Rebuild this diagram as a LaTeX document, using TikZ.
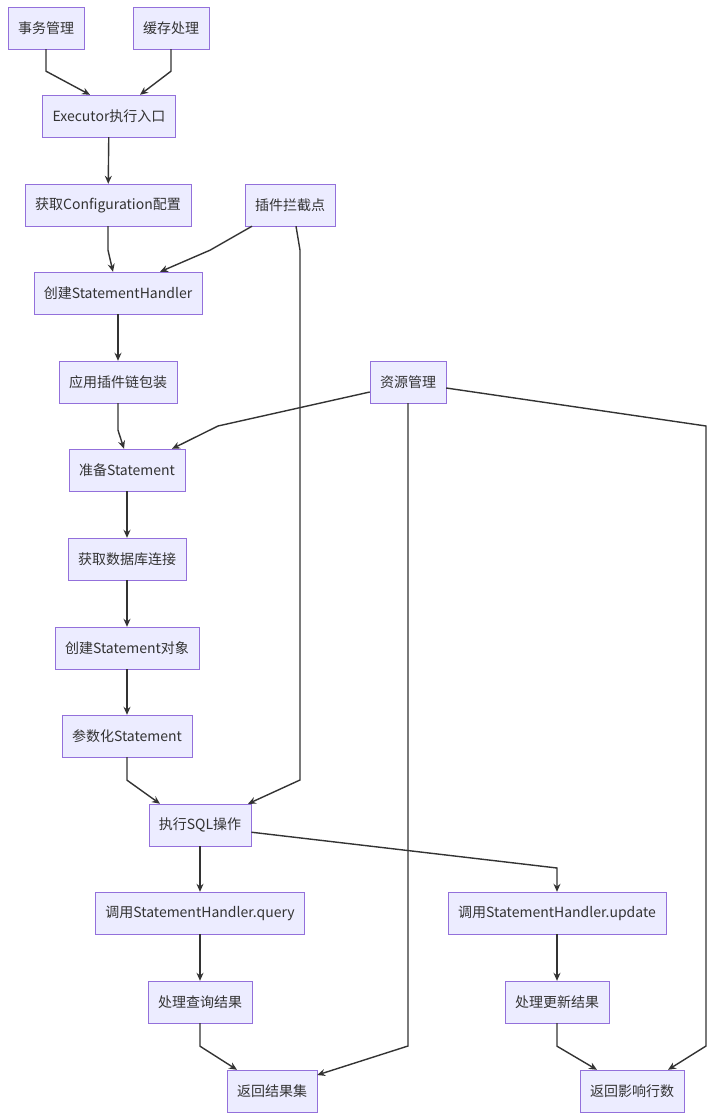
\documentclass[tikz,border=0pt]{standalone}
\usepackage{fontspec}
\setmainfont{Noto Sans CJK SC}
\usetikzlibrary{positioning,arrows.meta}
\definecolor{boxline}{HTML}{9370DB}
\definecolor{boxfill}{HTML}{ECECFF}
\definecolor{linkcol}{HTML}{333333}
\begin{document}
\begin{tikzpicture}[x=1pt,y=1pt,
  box/.style={draw=boxline, fill=boxfill, minimum height=42pt, inner xsep=10pt,
    font=\fontsize{14}{17}\selectfont, text=linkcol},
  link/.style={draw=linkcol, line width=1.4pt, -{Stealth[length=8pt,width=7pt]}}]
\useasboundingbox (0,0) rectangle (710,-1115);
% nodes at pixel positions
\node[box] (tx) at (46,-28) {事务管理};
\node[box] (cache) at (171,-28) {缓存处理};
\node[box] (exec) at (109,-116) {Executor执行入口};
\node[box] (cfg) at (108,-205) {获取Configuration配置};
\node[box] (plug) at (290,-205) {插件拦截点};
\node[box] (csh) at (118,-293) {创建StatementHandler};
\node[box] (wrap) at (118,-382) {应用插件链包装};
\node[box] (res) at (408,-382) {资源管理};
\node[box] (prep) at (127,-470) {准备Statement};
\node[box] (conn) at (127,-559) {获取数据库连接};
\node[box] (cst) at (127,-648) {创建Statement对象};
\node[box] (param) at (127,-736) {参数化Statement};
\node[box] (sql) at (200,-825) {执行SQL操作};
\node[box] (query) at (200,-913) {调用StatementHandler.query};
\node[box] (update) at (557,-913) {调用StatementHandler.update};
\node[box] (qres) at (200,-1002) {处理查询结果};
\node[box] (ures) at (557,-1002) {处理更新结果};
\node[box] (rset) at (272,-1091) {返回结果集};
\node[box] (rows) at (632,-1091) {返回影响行数};
% connectors
\draw[link] (tx.south) -- ++(0,-22) -- ([xshift=-19pt]exec.north);
\draw[link] (cache.south) -- ++(0,-22) -- ([xshift=31pt]exec.north);
\draw[link] (exec) -- (cfg);
\draw[link] (cfg.south) -- ++(0,-24) -- ([xshift=-5pt]csh.north);
\draw[link] ([xshift=-38pt]plug.south) -- ++(-42,-24) -- ([xshift=42pt]csh.north);
\draw[link] ([xshift=6pt]plug.south) -- ++(4,-24) -- (300,-780) -- ([xshift=48pt]sql.north);
\draw[link] (csh) -- (wrap);
\draw[link] (wrap.south) -- ++(0,-27) -- ([xshift=-3pt]prep.north);
\draw[link] ([yshift=-10pt]res.west) -- (218,-426) -- ([xshift=45pt]prep.north);
\draw[link] (res.south) -- (408,-1046) -- ([yshift=16pt]rset.east);
\draw[link] ([yshift=-6pt]res.east) -- (706,-426) -- (706,-1046) -- ([xshift=36pt]rows.north);
\draw[link] (prep) -- (conn);
\draw[link] (conn) -- (cst);
\draw[link] (cst) -- (param);
\draw[link] (param.south) -- ++(0,-23) -- ([xshift=-40pt]sql.north);
\draw[link] (sql) -- (query);
\draw[link] ([yshift=14pt]sql.south east) -- (557,-868) -- (update.north);
\draw[link] (query) -- (qres);
\draw[link] (update) -- (ures);
\draw[link] (qres.south) -- ++(0,-23) -- ([xshift=-35pt]rset.north);
\draw[link] (ures.south) -- ++(0,-23) -- ([xshift=-35pt]rows.north);
\end{tikzpicture}
\end{document}
